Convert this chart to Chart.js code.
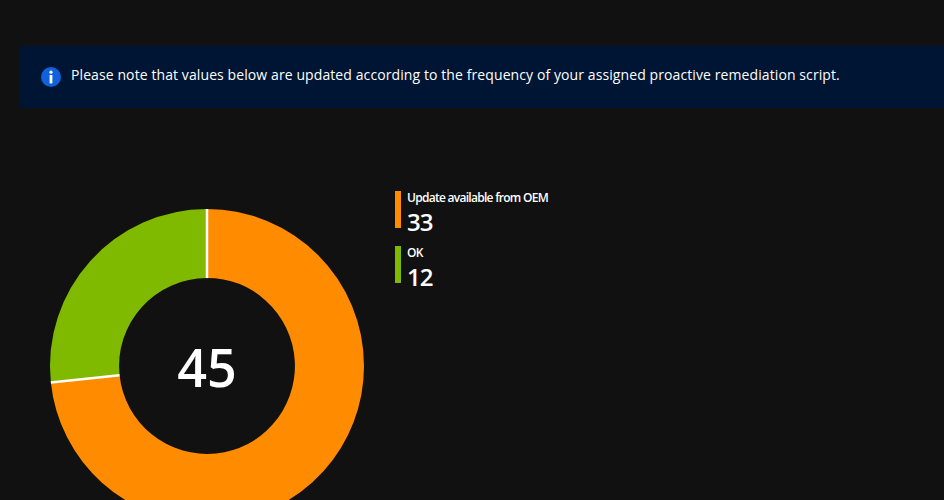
<!DOCTYPE html>
<html><head><meta charset="utf-8">
<script src="https://cdn.jsdelivr.net/npm/chart.js@4/dist/chart.umd.min.js"></script>
<style>
html,body{margin:0;padding:0;width:944px;height:500px;overflow:hidden;background:#111111;color:#fff;font-family:"Open Sans","Noto Sans",sans-serif}
#banner{position:absolute;left:20px;top:46px;width:924px;height:62px;background:#001433}
#icon{position:absolute;left:41px;top:67px}
#note{position:absolute;left:71px;top:65px;font-size:14px;line-height:20px;letter-spacing:.095px;white-space:nowrap}
#wrap{position:absolute;left:37px;top:196px;width:340px;height:340px}
.lg{position:absolute;left:395px;width:160px;height:37px}
.lg i{position:absolute;left:0;top:0;width:6px;height:37px}
.lg b{position:absolute;left:12px;top:-1px;font-weight:600;font-size:12px;line-height:16px;letter-spacing:-.72px;white-space:nowrap}
.lg span{position:absolute;left:12px;top:15px;font-weight:600;font-size:24px;line-height:32px;letter-spacing:-1px}
</style></head><body>
<div id="banner"></div>
<svg id="icon" width="20" height="20" viewBox="0 0 20 20"><circle cx="10" cy="10" r="10" fill="#0f62d9"/><circle cx="10" cy="5.2" r="1.6" fill="#fff"/><rect x="8.6" y="8" width="2.8" height="8.4" fill="#fff"/></svg>
<div id="note"></div>
<div id="wrap"><canvas id="c" width="340" height="340"></canvas></div>
<div id="legend"></div>
<script>
const noteText = "Please note that values below are updated according to the frequency of your assigned proactive remediation script.";
const categories = ["Update available from OEM", "OK"];
const seriesValues = [33, 12];
const seriesColors = ["#ff8c00", "#7fba00"];
const totalLabel = "45";

document.getElementById("note").textContent = noteText;
const legend = document.getElementById("legend");
categories.forEach((name, i) => {
  const d = document.createElement("div");
  d.className = "lg";
  d.style.top = (191 + i * 55) + "px";
  const bar = document.createElement("i"); bar.style.background = seriesColors[i];
  const label = document.createElement("b"); label.textContent = name;
  const val = document.createElement("span"); val.textContent = seriesValues[i];
  d.append(bar, label, val);
  legend.appendChild(d);
});

const extras = {
  id: "extras",
  afterDatasetsDraw(chart) {
    const ctx = chart.ctx;
    const arcs = chart.getDatasetMeta(0).data;
    ctx.save();
    ctx.strokeStyle = "#ffffff";
    ctx.lineWidth = 2.5;
    arcs.forEach(a => {
      const p = a.getProps(["x", "y", "startAngle", "innerRadius", "outerRadius"], true);
      ctx.beginPath();
      ctx.moveTo(p.x + Math.cos(p.startAngle) * p.innerRadius, p.y + Math.sin(p.startAngle) * p.innerRadius);
      ctx.lineTo(p.x + Math.cos(p.startAngle) * p.outerRadius, p.y + Math.sin(p.startAngle) * p.outerRadius);
      ctx.stroke();
    });
    const c = arcs[0].getProps(["x", "y"], true);
    ctx.fillStyle = "#ffffff";
    ctx.font = '600 52px "Open Sans","Noto Sans",sans-serif';
    ctx.textAlign = "center";
    ctx.textBaseline = "middle";
    ctx.fillText(totalLabel, c.x, c.y + 6);
    ctx.restore();
  }
};

new Chart(document.getElementById("c"), {
  type: "doughnut",
  data: { labels: categories, datasets: [{ data: seriesValues, backgroundColor: seriesColors, borderWidth: 0 }] },
  options: {
    responsive: false,
    animation: false,
    cutout: "56%",
    layout: { padding: 13 },
    plugins: { legend: { display: false }, tooltip: { enabled: false } }
  },
  plugins: [extras]
});
</script>
</body></html>
